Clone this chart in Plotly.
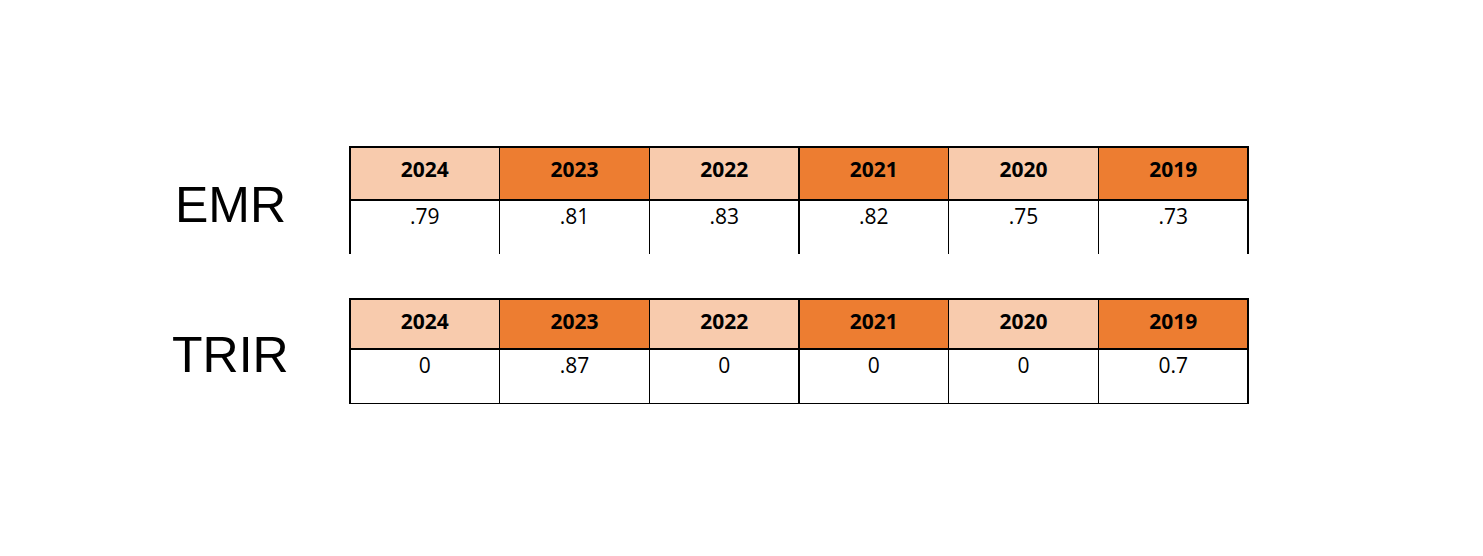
import plotly.graph_objects as go

years = ["2024", "2023", "2022", "2021", "2020", "2019"]
emr_values = [".79", ".81", ".83", ".82", ".75", ".73"]
trir_values = ["0", ".87", "0", "0", "0", "0.7"]
row_labels = ["EMR", "TRIR"]

W, H = 1483, 556
OFF = 8
light, dark = "#F8CBAD", "#ED7D31"
hdr_fill = [light if i % 2 == 0 else dark for i in range(len(years))]

def row(vals, top, bottom, fills, bold):
    top -= OFF
    bottom -= OFF
    return go.Table(
        domain=dict(x=[(350 - OFF) / W, (1249 - OFF) / W], y=[1 - bottom / H, 1 - top / H]),
        columnwidth=[1] * len(vals),
        header=dict(values=[f"<b>{v}</b>" if bold else v for v in vals], fill_color=fills,
                    line=dict(color="black", width=1.5), align="center", height=bottom - top,
                    font=dict(family="Open Sans", size=21, color="black")),
    )

fig = go.Figure([
    row(years, 147, 201, hdr_fill, True),
    row(emr_values, 200, 255, ["white"] * 6, False),
    row(years, 299, 350, hdr_fill, True),
    row(trir_values, 349, 404, ["white"] * 6, False),
])
for lab, yc in zip(row_labels, [205, 355]):
    fig.add_annotation(text=lab, x=(230 - OFF) / W, y=1 - (yc - OFF) / H, xref="paper", yref="paper",
                       xanchor="center", yanchor="middle", showarrow=False,
                       font=dict(family="Liberation Sans", size=50, color="black"))
fig.update_layout(width=W, height=H, margin=dict(l=0, r=0, t=0, b=0),
                  paper_bgcolor="white", plot_bgcolor="white")
fig.write_html("out.html")
